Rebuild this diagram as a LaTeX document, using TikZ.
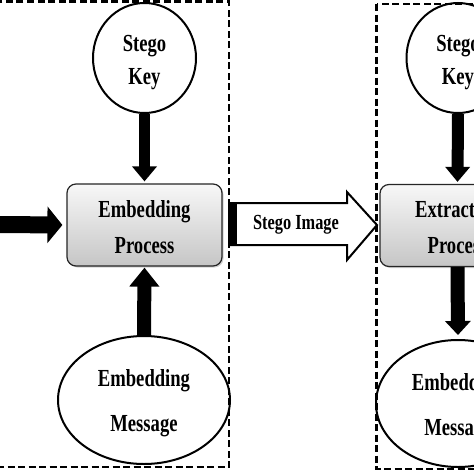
\documentclass[tikz,border=0pt]{standalone}
\usepackage{fontspec}
\setmainfont{Liberation Serif}[FakeStretch=0.76]
\usetikzlibrary{shapes.geometric,arrows.meta,shadows}
\newcommand{\tallstrut}[1]{\rule{0pt}{#1}}
\begin{document}
\begin{tikzpicture}[x=1pt,y=-1pt,
  keynode/.style={ellipse, draw, line width=2pt, minimum width=103pt, minimum height=110pt, inner sep=0pt,
    align=center, font=\bfseries\fontsize{24.5}{33}\selectfont},
  msgnode/.style={ellipse, draw, line width=2pt, inner sep=0pt, align=center, font=\bfseries\fontsize{24.5}{45}\selectfont},
  procnode/.style={draw=black!85, line width=1.2pt, rounded corners=9pt, top color=gray!6, bottom color=gray!45,
    minimum width=155pt, minimum height=82pt, inner sep=0pt, align=center, font=\bfseries\fontsize{24.5}{36}\selectfont,
    drop shadow={shadow xshift=1.5pt, shadow yshift=-1.5pt, opacity=0.35}},
  frame/.style={dash pattern=on 7pt off 3.5pt, line width=2.4pt},
]
\useasboundingbox (0,0) rectangle (474,474);
\clip (0,0) rectangle (474,474);
\fill[white] (0,0) rectangle (474,474);

% frames
\draw[frame] (-10,1.5) rectangle (229,467);
\draw[frame] (376.5,4) rectangle (495,469);

% left side
\node[keynode] (k1) at (144.5,58) {\tallstrut{25.5pt}Stego\\Key};
\node[procnode] (p1) at (144.5,225) {\tallstrut{21pt}Embedding\\Process};
\node[msgnode, minimum width=172pt, minimum height=128pt] (m1) at (144,400) {\tallstrut{24pt}Embedding\\Message};

% right side
\node[keynode] (k2) at (458,58) {\tallstrut{25.5pt}Stego\\Key};
\node[procnode] (p2) at (457.5,225.5) {\tallstrut{21pt}Extraction\\Process};
\node[msgnode, minimum width=164pt, minimum height=127pt] (m2) at (458,403.5) {\tallstrut{24pt}Embedding\\Message};

% arrows
\coordinate (in) at (-5,224.5);
\draw[line width=17pt, -{Triangle[width=36pt,length=15pt]}, shorten >=4pt] (in) -- (p1.west);
\draw[line width=11pt, -{Triangle[width=24pt,length=15pt]}, shorten >=2pt] (k1.south) -- (p1.north);
\draw[line width=14pt, -{Triangle[width=29pt,length=19pt]}, shorten >=1pt] (m1.north) -- (p1.south);
\draw[line width=12pt, -{Triangle[width=24pt,length=15pt]}, shorten >=2pt] (k2.south) -- (p2.north);
\draw[line width=14pt, -{Triangle[width=25pt,length=14pt]}, shorten >=4pt] (p2.south) -- (m2.north);

% stego image block arrow
\draw[line width=2pt, fill=white, line join=miter]
  (229,203) -- (347,203) -- (347,192) -- (377,225) -- (347,260) -- (347,245) -- (229,245) -- cycle;
\fill[black] (229,202) rectangle (236.5,246);
\node[font=\bfseries\fontsize{21.5}{24}\selectfont] (si) at (296,225) {Stego Image};
\end{tikzpicture}
\end{document}
